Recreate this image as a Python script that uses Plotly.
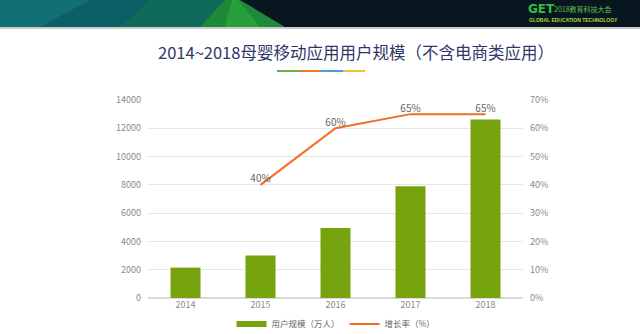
import plotly.graph_objects as go

years = ["2014", "2015", "2016", "2017", "2018"]
users = [2150, 3000, 4950, 7900, 12620]
growth_years = ["2015", "2016", "2017", "2018"]
growth = [40, 60, 65, 65]
growth_labels = ["40%", "60%", "65%", "65%"]

W, H = 640, 334
L, R, T, B = 148, 523, 100, 298

def px(x):
    return (x - L) / (R - L)

def py(y):
    return (B - y) / (B - T)

fig = go.Figure()
fig.add_trace(go.Bar(x=years, y=users, name="用户规模（万人）", marker_color="#77a30f",
                     marker_line_width=0, yaxis="y", showlegend=False))
fig.add_trace(go.Scatter(x=[None], y=[None], name="用户规模（万人）", mode="lines",
                         line=dict(color="#77a30f", width=6), yaxis="y"))
fig.add_trace(go.Scatter(x=growth_years, y=growth, name="增长率（%）", mode="lines+text",
                         line=dict(color="#f26c22", width=2), yaxis="y2",
                         text=growth_labels, textposition="top center",
                         textfont=dict(size=10, color="#666666")))

shapes = []
shapes.append(dict(type="rect", xref="paper", yref="paper", x0=px(0), x1=px(640), y0=py(27), y1=py(0),
                   fillcolor="#08171f", line_width=0, layer="below"))
def poly(pts, color):
    path = "M " + " L ".join(f"{px(a)},{py(b)}" for a, b in pts) + " Z"
    return dict(type="path", xref="paper", yref="paper", path=path, fillcolor=color, line_width=0, layer="below")
shapes.append(poly([(0, 0), (200, 0), (150, 27), (0, 27)], "#0d5f66"))
shapes.append(poly([(0, 0), (90, 0), (40, 27), (0, 27)], "#127074"))
shapes.append(poly([(150, 0), (230, 0), (200, 27), (120, 27)], "#0f6a5c"))
shapes.append(poly([(225, 0), (240, 0), (285, 27), (200, 27)], "#1d8a3a"))
shapes.append(poly([(232, 0), (238, 0), (260, 27), (225, 27)], "#27a03a"))
shapes.append(dict(type="rect", xref="paper", yref="paper", x0=px(0), x1=px(640), y0=py(29), y1=py(27),
                   fillcolor="#c8ccc8", line_width=0, layer="below"))
cols = ["#6ab04c", "#f07a32", "#4a9ee0", "#f5c12e"]
for i, c in enumerate(cols):
    shapes.append(dict(type="rect", xref="paper", yref="paper", x0=px(277 + 22 * i), x1=px(277 + 22 * (i + 1)),
                       y0=py(72), y1=py(70), fillcolor=c, line_width=0))

annotations = [
    dict(text="2014~2018母婴移动应用用户规模（不含电商类应用）", xref="paper", yref="paper",
         x=px(356), y=py(52), showarrow=False, xanchor="center", yanchor="middle",
         font=dict(size=16.5, color="#2d3868", family="Noto Sans CJK SC")),
    dict(text="<b>GET</b>", xref="paper", yref="paper", x=px(526), y=py(9), showarrow=False,
         xanchor="left", yanchor="middle", font=dict(size=12, color="#38b84a", family="DejaVu Sans")),
    dict(text="2018教育科技大会", xref="paper", yref="paper", x=px(552), y=py(9), showarrow=False,
         xanchor="left", yanchor="middle", font=dict(size=7, color="#5cc04a", family="Noto Sans CJK SC")),
    dict(text="<b>GLOBAL EDUCATION TECHNOLOGY</b>", xref="paper", yref="paper", x=px(527), y=py(20), showarrow=False,
         xanchor="left", yanchor="middle", font=dict(size=5, color="#a8d83a", family="Liberation Sans")),
]

fig.update_layout(
    width=W, height=H,
    margin=dict(l=L, r=W - R, t=T, b=H - B, pad=0, autoexpand=False),
    paper_bgcolor="white", plot_bgcolor="white",
    font=dict(family="Noto Sans CJK SC", size=9, color="#8a8a8a"),
    bargap=0.6,
    showlegend=True,
    legend=dict(orientation="h", xref="container", yref="container",
                x=336 / W, xanchor="center", y=(H - 324) / H, yanchor="middle",
                font=dict(size=8.5, color="#666666"), tracegroupgap=0, itemwidth=30,
                bgcolor="rgba(0,0,0,0)"),
    xaxis=dict(showline=False, ticks="", tickfont=dict(size=9, color="#8a8a8a"), showgrid=False,
               automargin=False),
    yaxis=dict(range=[0, 14000], dtick=2000, tickformat="d", showgrid=True, gridcolor="#e6e6e6", gridwidth=1,
               zeroline=True, zerolinecolor="#d9d9d9", ticks="", tickfont=dict(size=9, color="#8a8a8a"),
               ticklabelstandoff=6, automargin=False),
    yaxis2=dict(range=[0, 70], dtick=10, overlaying="y", side="right", showgrid=False, zeroline=False,
                ticksuffix="%", tickfont=dict(size=9, color="#8a8a8a"), ticks="", ticklabelstandoff=6,
                automargin=False),
    shapes=shapes,
    annotations=annotations,
)

fig.write_html("out.html")
